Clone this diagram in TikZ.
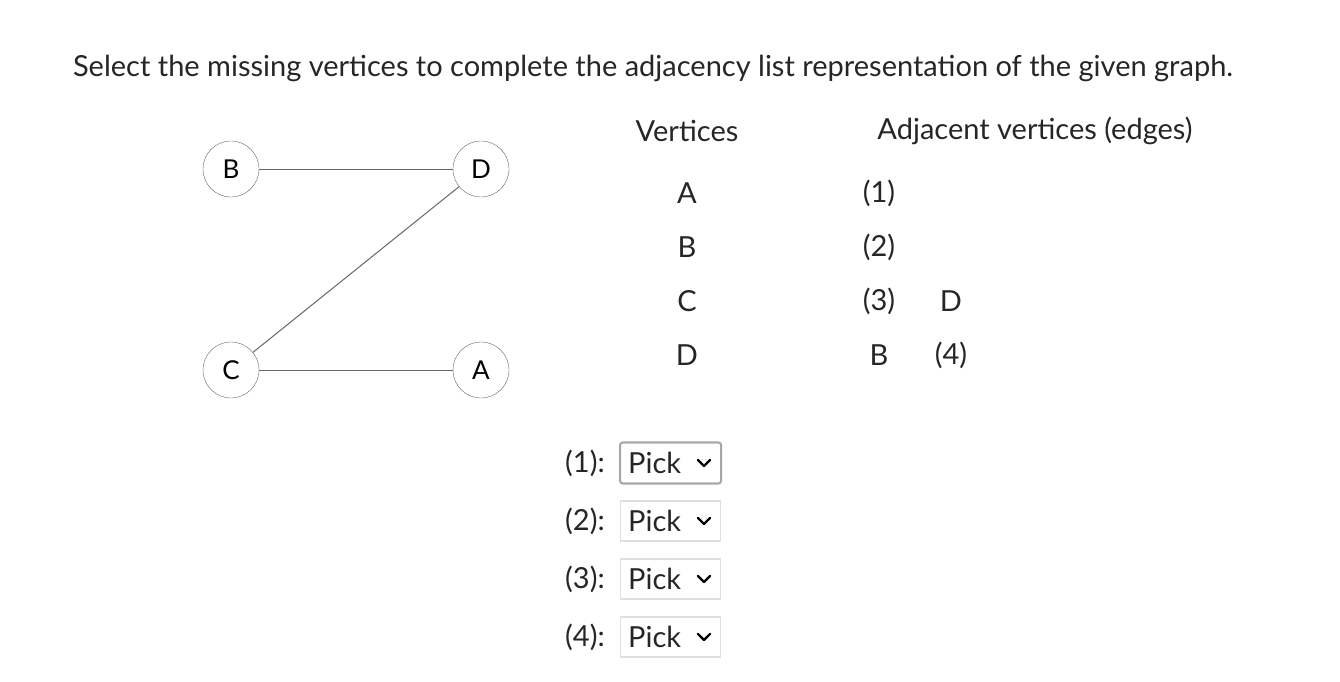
\documentclass[tikz,border=0pt]{standalone}
\usepackage{fontspec}
\setmainfont{Lato}
\begin{document}
\begin{tikzpicture}[x=1pt,y=-1pt,
  vtx/.style={circle,draw=black!60,fill=white,minimum size=56pt,inner sep=0pt,font=\fontsize{26}{30}\selectfont},
  txt/.style={font=\fontsize{29}{34}\selectfont,text=black!85,inner sep=0pt},
  pickbox/.style={draw=black!12,line width=1.2pt,minimum width=100pt,minimum height=40pt,inner sep=0pt,anchor=west},
  edge/.style={draw=black!60,line width=1pt}]
\useasboundingbox (0,0) rectangle (1340,682);
\node[txt] (title) at (653,68) {Select the missing vertices to complete the adjacency list representation of the given graph.};
\node[vtx] (B) at (231,169) {B};
\node[vtx] (D) at (481,169) {D};
\node[vtx] (C) at (231,370) {C};
\node[vtx] (A) at (481,370) {A};
\draw[edge] (B) -- (D);
\draw[edge] (C) -- (D);
\draw[edge] (C) -- (A);
\node[txt] (hv) at (687,131) {Vertices};
\node[txt] (ha) at (1035,131) {Adjacent vertices (edges)};
\node[txt] (va) at (687,193) {A};
\node[txt] (vb) at (687,247) {B};
\node[txt] (vc) at (687,301) {C};
\node[txt] (vd) at (687,355) {D};
\node[txt] (a1) at (879,193) {(1)};
\node[txt] (a2) at (879,247) {(2)};
\node[txt] (a3) at (879,301) {(3)};
\node[txt] (a3b) at (951,301) {D};
\node[txt] (a4a) at (879,355) {B};
\node[txt] (a4) at (951,355) {(4)};
\foreach \i/\y in {1/463,2/521,3/579,4/637}{
  \node[txt] (l\i) at (585,\y) {(\i):};
  \node[pickbox] (p\i) at (620,\y) {};
  \node[txt,anchor=west] (t\i) at (628,\y) {Pick};
  \draw[line width=2.2pt,line cap=round,line join=round] (698,\y-3) -- (704,\y+3) -- (710,\y-3);
}
\draw[draw=black!35,line width=2pt,rounded corners=3pt] (p1.north west) rectangle (p1.south east);
\end{tikzpicture}
\end{document}
